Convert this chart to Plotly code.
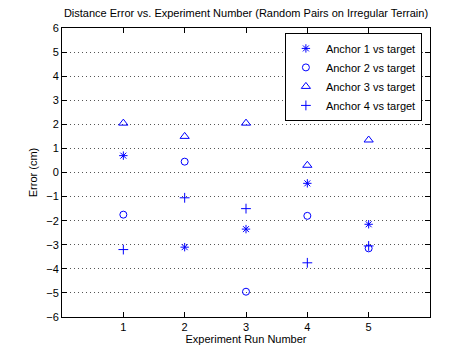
import plotly.graph_objects as go

runs = [1, 2, 3, 4, 5]
anchor1 = [0.7, -3.1, -2.35, -0.45, -2.15]
anchor2 = [-1.75, 0.45, -4.95, -1.8, -3.15]
anchor3 = [2.05, 1.5, 2.05, 0.3, 1.35]
anchor4 = [-3.2, -1.05, -1.5, -3.75, -3.05]

names = ["Anchor 1 vs target", "Anchor 2 vs target", "Anchor 3 vs target", "Anchor 4 vs target"]
symbols = ["asterisk-open", "circle-open", "triangle-up-open", "cross-thin-open"]
sizes = [7, 7, 8, 7]

fig = go.Figure()
for vals, nm, sym, sz in zip([anchor1, anchor2, anchor3, anchor4], names, symbols, sizes):
    fig.add_trace(go.Scatter(
        x=runs, y=vals, mode="markers", name=nm,
        marker=dict(symbol=sym, size=sz, color="#0000ff", line=dict(color="#0000ff", width=1)),
    ))

font = dict(family="Liberation Sans, Arial", size=11, color="black")
axis_common = dict(
    showline=True, linecolor="black", linewidth=1, mirror="ticks",
    ticks="inside", ticklen=5, tickcolor="black", zeroline=False,
    tickfont=font, automargin=False,
)

fig.update_layout(
    width=474, height=355,
    margin=dict(l=54, r=52, t=20, b=46, autoexpand=False),
    paper_bgcolor="white", plot_bgcolor="white",
    title=dict(text="Distance Error vs. Experiment Number (Random Pairs on Irregular Terrain)",
               x=(54 + 368 / 2) / 474, xanchor="center", y=0.985, yanchor="middle", automargin=False,
               font=font),
    xaxis=dict(range=[0, 6], tickvals=runs, showgrid=False,
               title=dict(text="Experiment Run Number", standoff=2, font=font),
               **axis_common),
    yaxis=dict(range=[-6, 6], dtick=1, tick0=0, showgrid=True, gridcolor="#555555",
               griddash="1px,3px", gridwidth=1,
               title=dict(text="Error (cm)", standoff=6, font=font),
               **axis_common),
    legend=dict(x=0.978, y=0.983, xanchor="right", yanchor="top",
                bgcolor="white", bordercolor="black", borderwidth=1,
                font=font, tracegroupgap=0, itemwidth=30),
    showlegend=True,
)

fig.write_html("out.html")
